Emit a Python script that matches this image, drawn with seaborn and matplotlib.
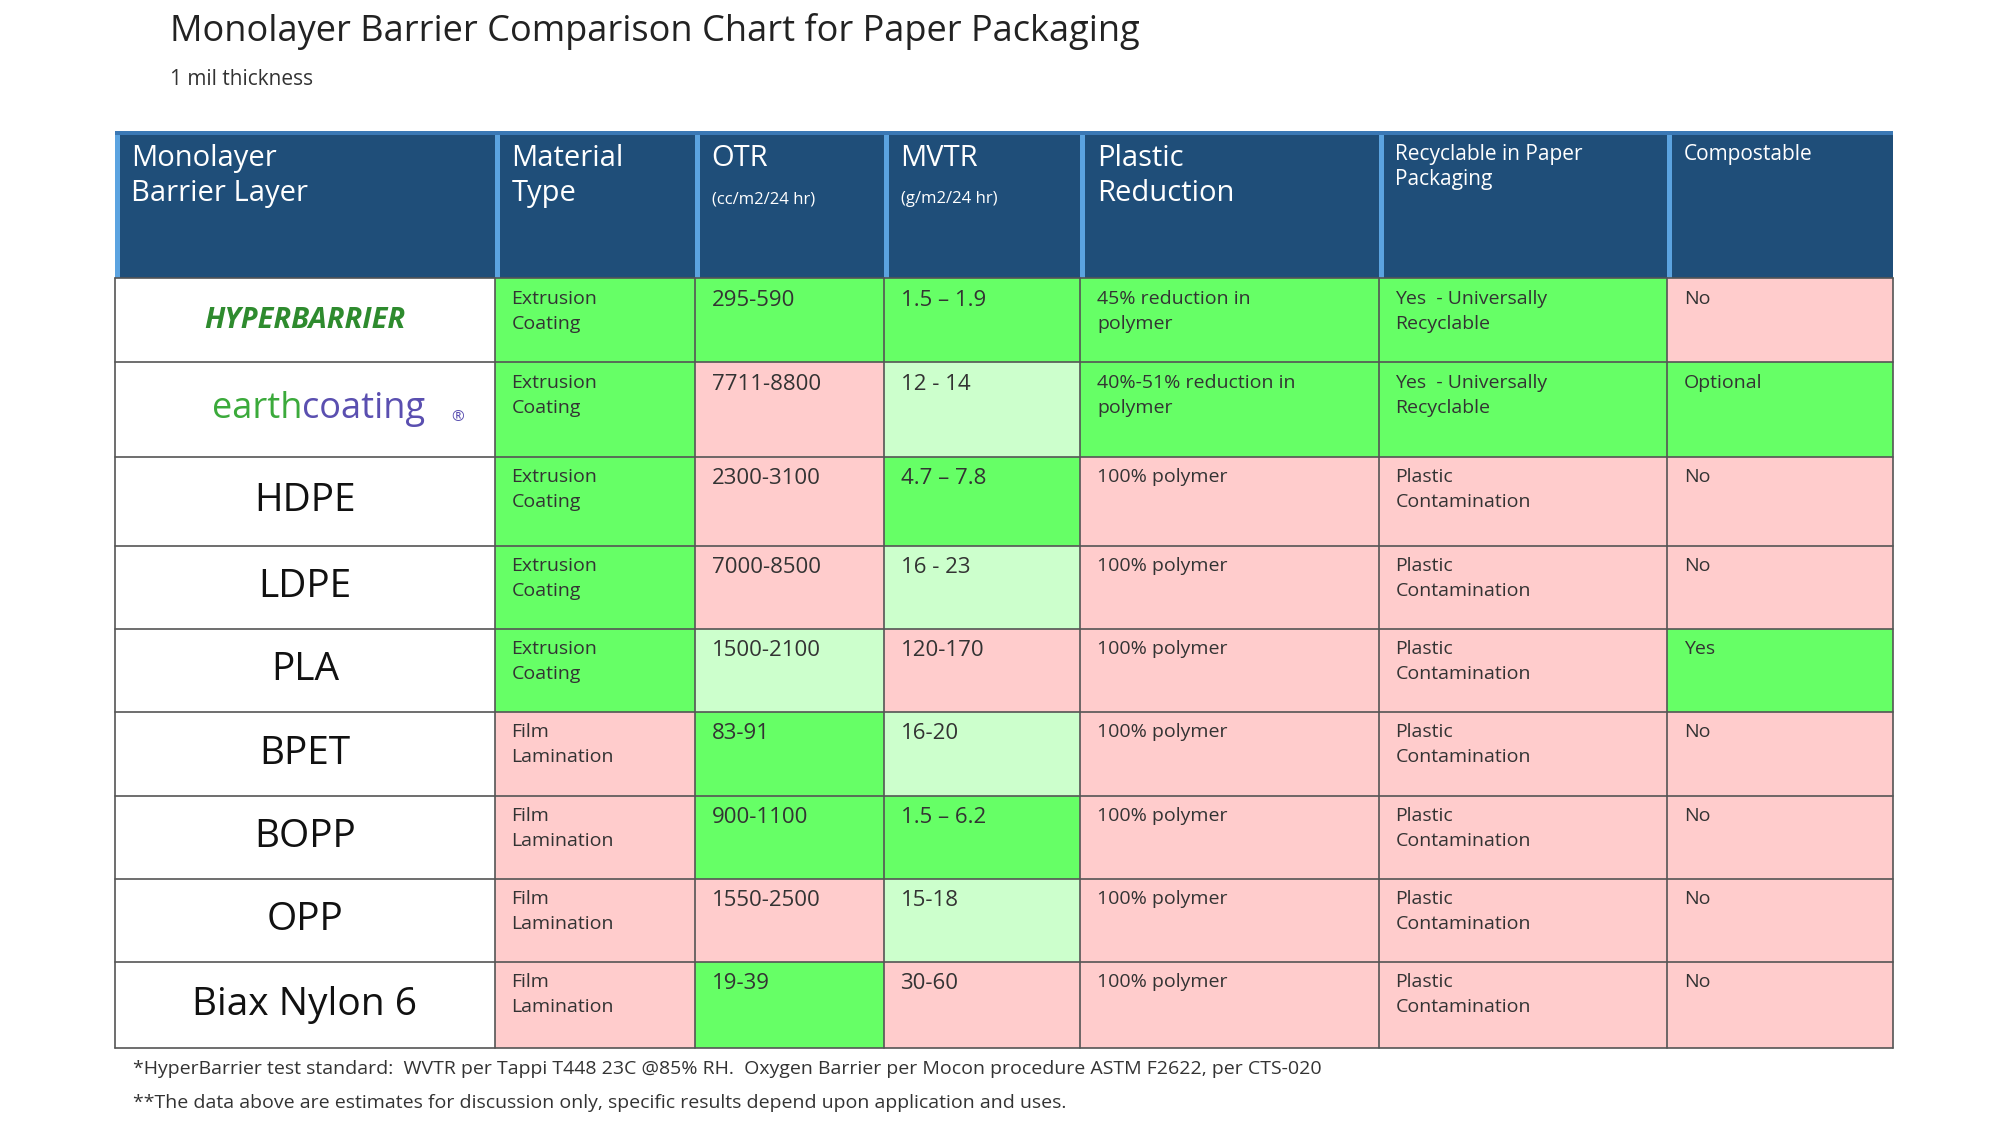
import numpy as np
import pandas as pd
import matplotlib
matplotlib.use("Agg")
import matplotlib.pyplot as plt
from matplotlib.colors import ListedColormap
import seaborn as sns

sns.set_theme(style="white")
plt.rcParams['font.family'] = ['Open Sans', 'DejaVu Sans']

title = "Monolayer Barrier Comparison Chart for Paper Packaging"
subtitle = "1 mil thickness"
headers = [("Monolayer\nBarrier Layer", None), ("Material\nType", None), ("OTR", "(cc/m2/24 hr)"),
           ("MVTR", "(g/m2/24 hr)"), ("Plastic\nReduction", None),
           ("Recyclable in Paper\nPackaging", None), ("Compostable", None)]
layers = ["HyperBarrier", "earthcoating", "HDPE", "LDPE", "PLA", "BPET", "BOPP", "OPP", "Biax Nylon 6"]
material = ["Extrusion\nCoating"] * 5 + ["Film\nLamination"] * 4
otr = ["295-590", "7711-8800", "2300-3100", "7000-8500", "1500-2100", "83-91", "900-1100", "1550-2500", "19-39"]
mvtr = ["1.5 – 1.9", "12 - 14", "4.7 – 7.8", "16 - 23", "120-170", "16-20", "1.5 – 6.2", "15-18", "30-60"]
reduction = ["45% reduction in\npolymer", "40%-51% reduction in\npolymer"] + ["100% polymer"] * 7
recyclable = ["Yes  - Universally\nRecyclable"] * 2 + ["Plastic\nContamination"] * 7
compostable = ["No", "Optional", "No", "No", "Yes", "No", "No", "No", "No"]
# colour codes: 0 white, 1 green, 2 light green, 3 pink
codes = [
    [0, 1, 1, 1, 1, 1, 3],
    [0, 1, 3, 2, 1, 1, 1],
    [0, 1, 3, 1, 3, 3, 3],
    [0, 1, 3, 2, 3, 3, 3],
    [0, 1, 2, 3, 3, 3, 1],
    [0, 3, 1, 2, 3, 3, 3],
    [0, 3, 1, 1, 3, 3, 3],
    [0, 3, 3, 2, 3, 3, 3],
    [0, 3, 1, 3, 3, 3, 3],
]
notes = ["*HyperBarrier test standard:  WVTR per Tappi T448 23C @85% RH.  Oxygen Barrier per Mocon procedure ASTM F2622, per CTS-020",
         "**The data above are estimates for discussion only, specific results depend upon application and uses."]

W, H = 1568, 882
colx = [90, 388, 545, 693, 847, 1081, 1307, 1484]
rowy = [218, 284, 358, 428, 493, 558, 624, 689, 754, 822]
head_top = 103

fig = plt.figure(figsize=(20, 11.25), dpi=100)
# heatmap body: expand columns/rows to pixel units so uneven sizes are kept
widths = np.diff(colx)
heights = np.diff(rowy)
grid = np.repeat(np.repeat(np.array(codes), heights, axis=0), widths, axis=1)
hax = fig.add_axes([colx[0] / W, 1 - rowy[-1] / H, (colx[-1] - colx[0]) / W, (rowy[-1] - rowy[0]) / H])
cmap = ListedColormap(["#FFFFFF", "#66FF66", "#CCFFCC", "#FFCCCC"])
sns.heatmap(pd.DataFrame(grid), ax=hax, cmap=cmap, vmin=-0.5, vmax=3.5, cbar=False,
            xticklabels=False, yticklabels=False, rasterized=True)
hax.set_axis_off()

ax = fig.add_axes([0, 0, 1, 1])
ax.set_xlim(0, W)
ax.set_ylim(H, 0)
ax.patch.set_alpha(0)
ax.set_axis_off()

# header
for i in range(7):
    ax.add_patch(plt.Rectangle((colx[i], head_top), colx[i + 1] - colx[i], rowy[0] - head_top,
                               facecolor="#1F4E79", edgecolor="none"))
    ax.add_patch(plt.Rectangle((colx[i], head_top), 4, rowy[0] - head_top, facecolor="#5BA3E0", edgecolor="none"))
ax.add_patch(plt.Rectangle((colx[0], head_top), colx[-1] - colx[0], 3, facecolor="#3A78B5", edgecolor="none"))
for i, (main, sub) in enumerate(headers):
    fs = 15 if i >= 5 else 21
    ax.text(colx[i] + 13, 113, main, color="white", fontsize=fs, va="top", ha="left", linespacing=1.25)
    if sub:
        ax.text(colx[i] + 13, 150, sub, color="white", fontsize=12, va="top", ha="left")

# grid lines
for y in rowy:
    ax.plot([colx[0], colx[-1]], [y, y], color="#555555", lw=1.2)
for x in colx:
    ax.plot([x, x], [rowy[0], rowy[-1]], color="#555555", lw=1.2)

# cells
cols = [material, otr, mvtr, reduction, recyclable, compostable]
for r in range(9):
    ytop = rowy[r]
    cx = (colx[0] + colx[1]) / 2
    cy = (rowy[r] + rowy[r + 1]) / 2
    if r == 0:
        ax.text(cx, cy, "HYPERBARRIER", fontsize=21, fontweight="bold", style="italic",
                color="#2E8B2E", ha="center", va="center")
    elif r == 1:
        ax.text(cx - 2, cy, "earth", fontsize=26, color="#3BAA3B", ha="right", va="center")
        ax.text(cx - 2, cy, "coating", fontsize=26, color="#5A4FB0", ha="left", va="center")
        ax.text(cx + 115, cy + 6, "®", fontsize=11, color="#5A4FB0", ha="left", va="center")
    else:
        ax.text(cx, cy, layers[r], fontsize=28, color="#111111", ha="center", va="center")
    for c, vals in enumerate(cols):
        fs = 16 if c in (1, 2) else 14
        ax.text(colx[c + 1] + 13, ytop + 9, vals[r], fontsize=fs, color="#333333",
                ha="left", va="top", linespacing=1.5)

ax.text(133, 25, title, fontsize=26, color="#222222", ha="left", va="center")
ax.text(133, 62, subtitle, fontsize=15, color="#333333", ha="left", va="center")
ax.text(104, 838, notes[0], fontsize=14, color="#333333", ha="left", va="center")
ax.text(104, 865, notes[1], fontsize=14, color="#333333", ha="left", va="center")

fig.savefig("out.png", dpi=100)
